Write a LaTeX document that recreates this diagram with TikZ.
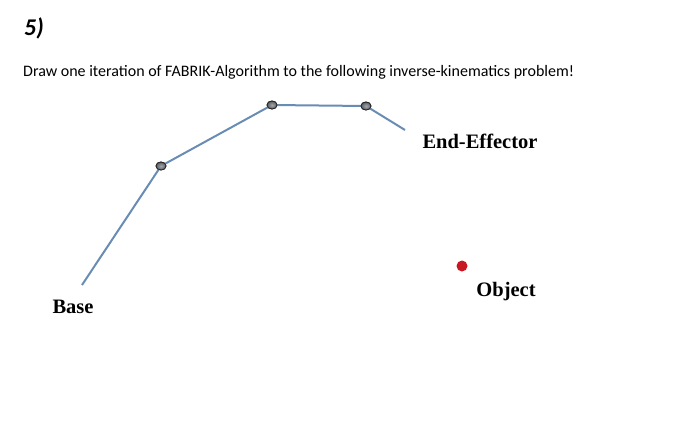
\documentclass[tikz,border=0pt]{standalone}
\usepackage{fontspec}
\setmainfont{Liberation Serif}
\newfontfamily\calib{Carlito}
\usetikzlibrary{shapes.geometric}
\definecolor{linkblue}{RGB}{105,140,180}
\definecolor{jointgrey}{RGB}{90,95,100}
\definecolor{objred}{RGB}{200,25,35}
\tikzset{
  link/.style={draw=linkblue, line width=2pt},
  joint/.style={ellipse, draw=black!85, line width=0.8pt, inner color=jointgrey!55, outer color=jointgrey, minimum width=10pt, minimum height=8pt, inner sep=0pt},
  lbl/.style={font=\bfseries\fontsize{20.5}{22}\selectfont, inner sep=0pt}
}
\begin{document}
\begin{tikzpicture}[x=1pt,y=-1pt]
\useasboundingbox (0,0) rectangle (700,447);
\node[anchor=west, inner sep=0pt, font=\calib\bfseries\itshape\fontsize{24}{26}\selectfont] (title) at (24,28) {5)};
\node[anchor=west, inner sep=0pt, font=\calib\fontsize{16}{18}\selectfont] (task) at (23,72) {Draw one iteration of FABRIK-Algorithm to the following inverse-kinematics problem!};
\coordinate (b) at (82,285);
\node[joint] (j1) at (161,166) {};
\node[joint] (j2) at (272,105) {};
\node[joint] (j3) at (366,106) {};
\coordinate (e) at (405,130);
\draw[link] (b) -- (j1.center) -- (j2.center) -- (j3.center) -- (e);
\node[joint] at (161,166) {};
\node[joint] at (272,105) {};
\node[joint] at (366,106) {};
\node[circle, fill=objred, minimum size=11pt, inner sep=0pt] (obj) at (462,266) {};
\node[lbl] (base) at (73,307) {Base};
\node[lbl] (ee) at (480,141) {End-Effector};
\node[lbl] (ob) at (506,292) {Object};
\end{tikzpicture}
\end{document}
